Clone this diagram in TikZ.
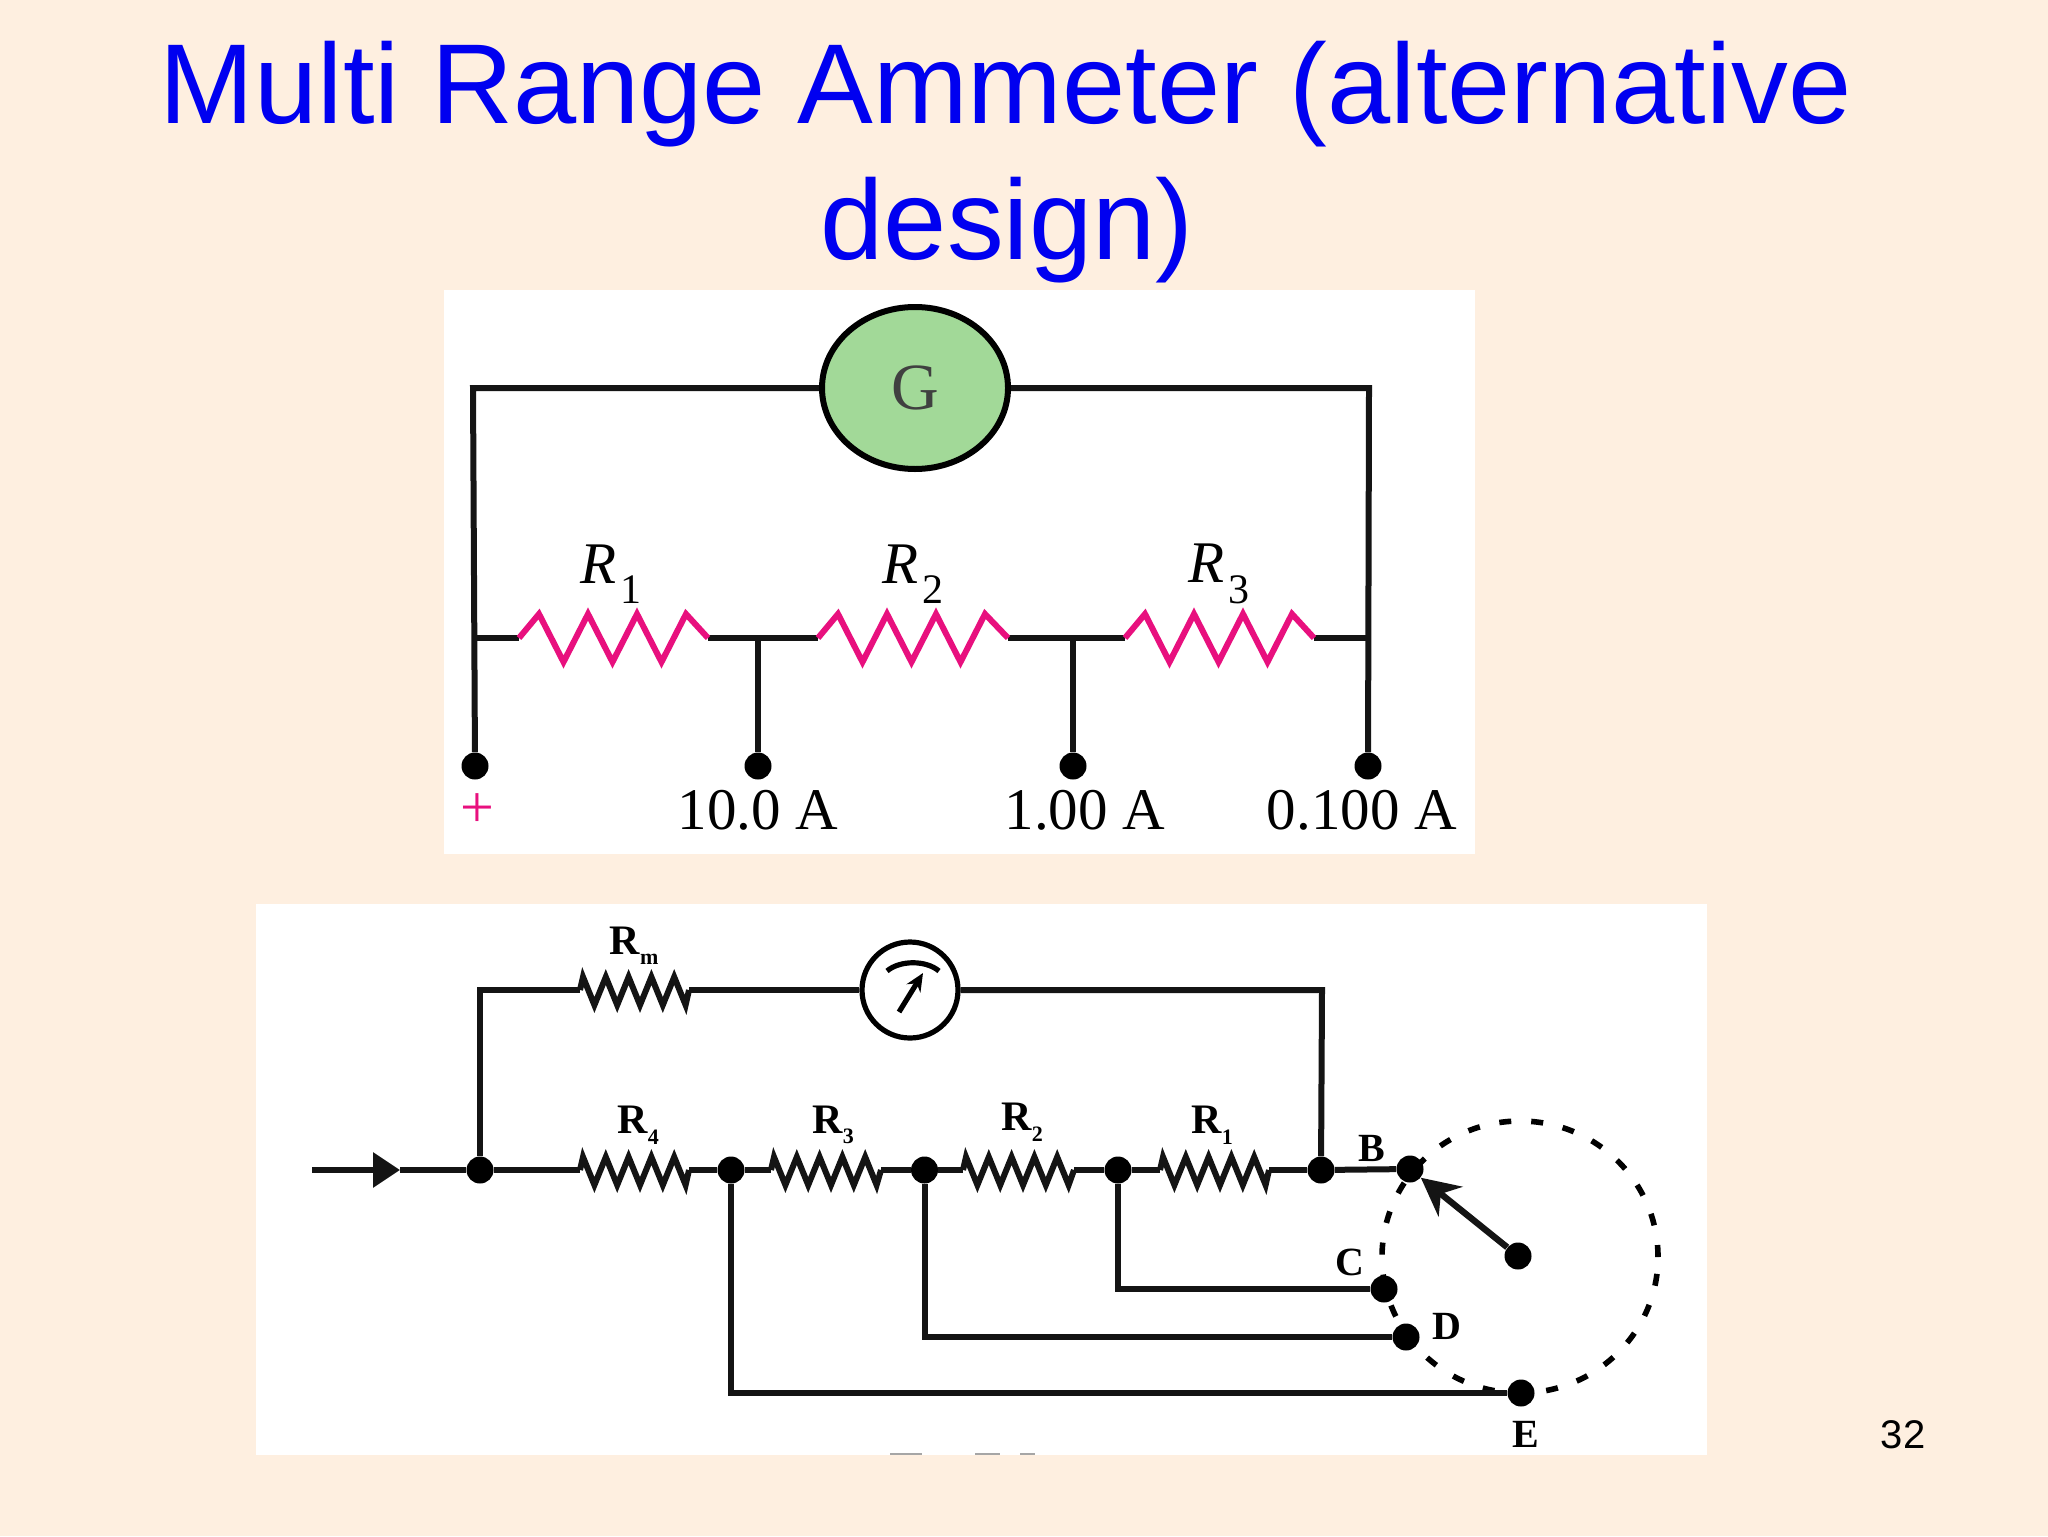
\documentclass[tikz,border=0pt]{standalone}
\usepackage{fontspec}
\setmainfont{Liberation Serif}
\newfontfamily\arialf{Liberation Sans}
\usetikzlibrary{shapes.geometric,arrows.meta}
\definecolor{slidebg}{HTML}{FEEFE0}
\definecolor{titleblue}{HTML}{0000F0}
\definecolor{respink}{HTML}{E8107E}
\definecolor{gaugegreen}{HTML}{A2D998}
\newcommand\pinkzig[2]{\draw[pinkres] (#1) -- ++(20,-24) -- ++(24.5,48) -- ++(24.5,-48) -- ++(24.5,48) -- ++(24.5,-48) -- ++(24.5,48) -- ++(24.5,-48) -- (#2);}
\newcommand\blackzig[2]{\draw[wire,line join=miter] (#1) -- ++(3,-13) -- ++(11.4,28) -- ++(11.4,-28) -- ++(11.4,28) -- ++(11.4,-28) -- ++(11.4,28) -- ++(11.4,-28) -- ++(11.4,28) -- ++(11.4,-28) -- ++(11.4,28) -- (#2);}
\newcommand\lowR[1]{\textbf{R\kern0.3pt\raisebox{-0.55ex}{\fontsize{11}{11}\selectfont #1}}}
\newcommand\itR[1]{\textit{R}\kern2pt\raisebox{-0.75ex}{\fontsize{21}{21}\selectfont #1}}
\tikzset{
  wire/.style={line width=3pt,black!92},
  pinkres/.style={line width=3pt,respink,line join=miter},
  term/.style={circle,fill=black,inner sep=0pt,minimum size=13.5pt},
  lab/.style={inner sep=0pt,font=\fontsize{29.5}{29.5}\selectfont},
  blab/.style={inner sep=0pt,font=\fontsize{20}{20}\selectfont\bfseries},
  rlab/.style={inner sep=0pt,font=\fontsize{21}{21}\selectfont},
  titletext/.style={inner sep=0pt,anchor=base,text=titleblue,font=\arialf\fontsize{56.8}{56.8}\selectfont},
}
\begin{document}
\begin{tikzpicture}[x=0.5pt,y=-0.5pt]
\useasboundingbox (0,0) rectangle (2048,1536);
\fill[slidebg] (0,0) rectangle (2048,1536);
\fill[white] (444,290) rectangle (1475,854);
\fill[white] (256,904) rectangle (1707,1455);
\fill[black!35] (890,1453) rectangle (922,1455);
\fill[black!35] (975,1453) rectangle (1000,1455);
\fill[black!35] (1020,1453) rectangle (1035,1455);

\node[titletext] (title1) at (1006,124) {Multi Range Ammeter (alternative};
\node[titletext] (title2) at (1007,259) {design)};
\node[inner sep=0pt,font=\arialf\fontsize{20}{20}\selectfont] (page) at (1903,1435) {32};

% upper circuit
\node[ellipse,draw=black,line width=3pt,fill=gaugegreen,inner sep=0pt,minimum width=93pt,minimum height=81pt,font=\fontsize{33}{33}\selectfont,text=black!75] (G) at (915,388) {G};
\coordinate (TL) at (473,388);
\coordinate (TR) at (1369,388);
\coordinate (JL) at (473,638);
\coordinate (JR) at (1369,638);
\coordinate (p1a) at (519,638);
\coordinate (p1b) at (708,638);
\coordinate (p2a) at (818,638);
\coordinate (p2b) at (1008,638);
\coordinate (p3a) at (1125,638);
\coordinate (p3b) at (1314,638);
\coordinate (J10) at (758,638);
\coordinate (J1) at (1073,638);
\node[term] (tplus) at (475,766) {};
\node[term] (t10) at (758,766) {};
\node[term] (t1) at (1073,766) {};
\node[term] (t01) at (1368,766) {};
\draw[wire,line join=miter] (G.west) -- (TL) -- (tplus);
\draw[wire,line join=miter] (G.east) -- (TR) -- (t01);
\draw[wire,line width=3.2pt] (JL) -- (p1a);
\draw[wire,line width=3.2pt] (p1b) -- (p2a);
\draw[wire,line width=3.2pt] (p2b) -- (p3a);
\draw[wire,line width=3.2pt] (p3b) -- (JR);
\draw[wire] (J10) -- (t10);
\draw[wire] (J1) -- (t1);
\pinkzig{p1a}{p1b}
\pinkzig{p2a}{p2b}
\pinkzig{p3a}{p3b}
\node[lab] (lr1) at (611,574) {\itR{1}};
\node[lab] (lr2) at (913,574) {\itR{2}};
\node[lab] (lr3) at (1219,574) {\itR{3}};
\node[inner sep=0pt,text=respink,font=\fontsize{30}{30}\selectfont] (lplus) at (477,811) {+};
\node[lab] (l10) at (758,810) {10.0 A};
\node[lab] (l1) at (1085,810) {1.00 A};
\node[lab] (l01) at (1362,810) {0.100 A};

% lower circuit
\coordinate (in) at (312,1170);
\coordinate (tip) at (400,1170);
\node[term] (Jin) at (480,1170) {};
\node[term] (Ja) at (731,1170) {};
\node[term] (Jb) at (924.5,1170) {};
\node[term] (Jc) at (1118,1170) {};
\node[term] (Jd) at (1321,1170) {};
\node[term] (B) at (1410,1169) {};
\node[term] (C) at (1384,1289) {};
\node[term] (D) at (1406,1337) {};
\node[term] (E) at (1521,1393) {};
\node[term] (pivot) at (1518,1256) {};
\node[ellipse,draw=black,line width=2.8pt,dash pattern=on 6pt off 10pt,inner sep=0pt,minimum width=138pt,minimum height=136pt] (ring) at (1520,1257) {};
\coordinate (qa) at (580,1170);
\coordinate (qb) at (689,1170);
\coordinate (qc) at (771,1170);
\coordinate (qd) at (881,1170);
\coordinate (qe) at (963,1170);
\coordinate (qf) at (1074,1170);
\coordinate (qg) at (1160,1170);
\coordinate (qh) at (1269,1170);
\coordinate (ma) at (580,990);
\coordinate (mb) at (689,990);
\coordinate (UL) at (480,990);
\coordinate (UR) at (1322,990);
\node[circle,draw=black,line width=2.6pt,fill=white,inner sep=0pt,minimum size=48pt] (M) at (910,990) {};
\draw[wire,-{Triangle[length=13.5pt,width=17pt]}] (in) -- (tip);
\draw[wire] (tip) -- (Jin);
\draw[wire] (Jin) -- (qa);
\draw[wire] (qb) -- (Ja);
\draw[wire] (Ja) -- (qc);
\draw[wire] (qd) -- (Jb);
\draw[wire] (Jb) -- (qe);
\draw[wire] (qf) -- (Jc);
\draw[wire] (Jc) -- (qg);
\draw[wire] (qh) -- (Jd);
\draw[wire] (Jd) -- (B);
\draw[wire,line join=miter] (Jin) -- (UL) -- (ma);
\draw[wire] (mb) -- (M);
\draw[wire,line join=miter] (M) -- (UR) -- (Jd);
\draw[wire,line join=miter] (Jc) |- (C);
\draw[wire,line join=miter] (Jb) |- (D);
\draw[wire,line join=miter] (Ja) |- (E);
\blackzig{ma}{mb}
\blackzig{qa}{qb}
\blackzig{qc}{qd}
\blackzig{qe}{qf}
\blackzig{qg}{qh}
\coordinate (arcL) at (887,971);
\coordinate (arcR) at (939,971);
\coordinate (ndlA) at (899,1012);
\coordinate (ndlB) at (923,973);
\draw[line width=2.6pt] (arcL) .. controls (900,960) and (926,960) .. (arcR);
\draw[line width=2.6pt,-{Stealth[length=9pt,width=8pt]}] (ndlA) -- (ndlB);
\draw[wire,line width=3.2pt,-{Stealth[length=19pt,width=19pt]}] (pivot) -- (B);

\node[rlab] (lrm) at (634,946) {\textbf{R\raisebox{-0.5ex}{\fontsize{11}{11}\selectfont m}}};
\node[rlab] (lr4b) at (638,1125) {\lowR{4}};
\node[rlab] (lr3b) at (833,1125) {\lowR{3}};
\node[rlab] (lr2b) at (1022,1122) {\lowR{2}};
\node[rlab] (lr1b) at (1212,1125) {\lowR{1}};
\node[blab] (lB) at (1372,1148) {B};
\node[blab] (lC) at (1350,1262) {C};
\node[blab] (lD) at (1447,1326) {D};
\node[blab] (lE) at (1526,1434) {E};
\end{tikzpicture}
\end{document}
